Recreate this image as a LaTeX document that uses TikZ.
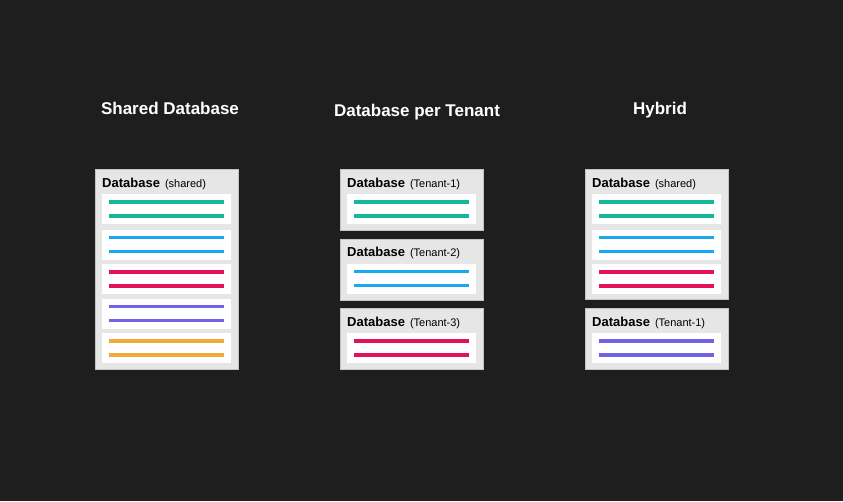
\documentclass[tikz,border=0pt]{standalone}
\usepackage{fontspec}
\setmainfont{Liberation Sans}
\definecolor{bg}{HTML}{1E1E1E}
\definecolor{dbgray}{HTML}{E6E6E6}
\definecolor{dbedge}{HTML}{C4C4C4}
\definecolor{cteal}{HTML}{17B89A}
\definecolor{cblue}{HTML}{1AA9EE}
\definecolor{cred}{HTML}{E3125B}
\definecolor{cpurple}{HTML}{7163E8}
\definecolor{corange}{HTML}{F3A93A}
\tikzset{
  heading/.style={text=white, font=\fontsize{17}{19}\selectfont\bfseries, anchor=base},
  dbbox/.style={draw=dbedge, line width=0.8pt, fill=dbgray, anchor=north west, minimum width=143, inner sep=0pt},
  dbtitle/.style={anchor=base west, inner sep=0pt, text=black},
  rowbox/.style={fill=white, anchor=north west, minimum width=129, minimum height=30, inner sep=0pt},
  rowline/.style={line width=3.3pt}
}
\newcommand{\dbname}[1]{{\fontsize{13}{15}\selectfont\bfseries Database}\hspace{5pt}{\fontsize{11}{13}\selectfont (#1)}}
\begin{document}
\begin{tikzpicture}[x=1pt,y=-1pt]
	\fill[bg] (0,0) rectangle (843,501);
	\useasboundingbox (0,0) rectangle (843,501);

	% headings
	\node[heading] (hA) at (170,114) {Shared Database};
	\node[heading] (hB) at (417,116) {Database per Tenant};
	\node[heading] (hC) at (660,114) {Hybrid};

	% shared database
	\node[dbbox, minimum height=200] (SA) at (95,169) {};
	\node[dbtitle] (SAt) at (102,187) {\dbname{shared}};
	\node[rowbox] (SA1) at (102,194) {};
	\node[rowbox] (SA2) at (102,229.5) {};
	\node[rowbox] (SA3) at (102,264) {};
	\node[rowbox] (SA4) at (102,298.5) {};
	\node[rowbox] (SA5) at (102,333) {};

	% database per tenant
	\node[dbbox, minimum height=61] (TA) at (340,169) {};
	\node[dbtitle] (TAt) at (347,187) {\dbname{Tenant-1}};
	\node[rowbox] (TA1) at (347,194) {};
	\node[dbbox, minimum height=61] (TB) at (340,238.5) {};
	\node[dbtitle] (TBt) at (347,256.5) {\dbname{Tenant-2}};
	\node[rowbox] (TB1) at (347,263.5) {};
	\node[dbbox, minimum height=61] (TC) at (340,308) {};
	\node[dbtitle] (TCt) at (347,326) {\dbname{Tenant-3}};
	\node[rowbox] (TC1) at (347,333) {};

	% hybrid
	\node[dbbox, minimum height=130] (HA) at (585,169) {};
	\node[dbtitle] (HAt) at (592,187) {\dbname{shared}};
	\node[rowbox] (HA1) at (592,194) {};
	\node[rowbox] (HA2) at (592,229.5) {};
	\node[rowbox] (HA3) at (592,264) {};
	\node[dbbox, minimum height=61] (HB) at (585,308) {};
	\node[dbtitle] (HBt) at (592,326) {\dbname{Tenant-1}};
	\node[rowbox] (HB1) at (592,333) {};

	% table lines
	\foreach \r/\c in {SA1/cteal,SA2/cblue,SA3/cred,SA4/cpurple,SA5/corange,
	                   TA1/cteal,TB1/cblue,TC1/cred,
	                   HA1/cteal,HA2/cblue,HA3/cred,HB1/cpurple}{
		\draw[rowline, \c] ([xshift=7,yshift=-8]\r.north west) -- ([xshift=-7,yshift=-8]\r.north east);
		\draw[rowline, \c] ([xshift=7,yshift=-22]\r.north west) -- ([xshift=-7,yshift=-22]\r.north east);
	}
\end{tikzpicture}
\end{document}
